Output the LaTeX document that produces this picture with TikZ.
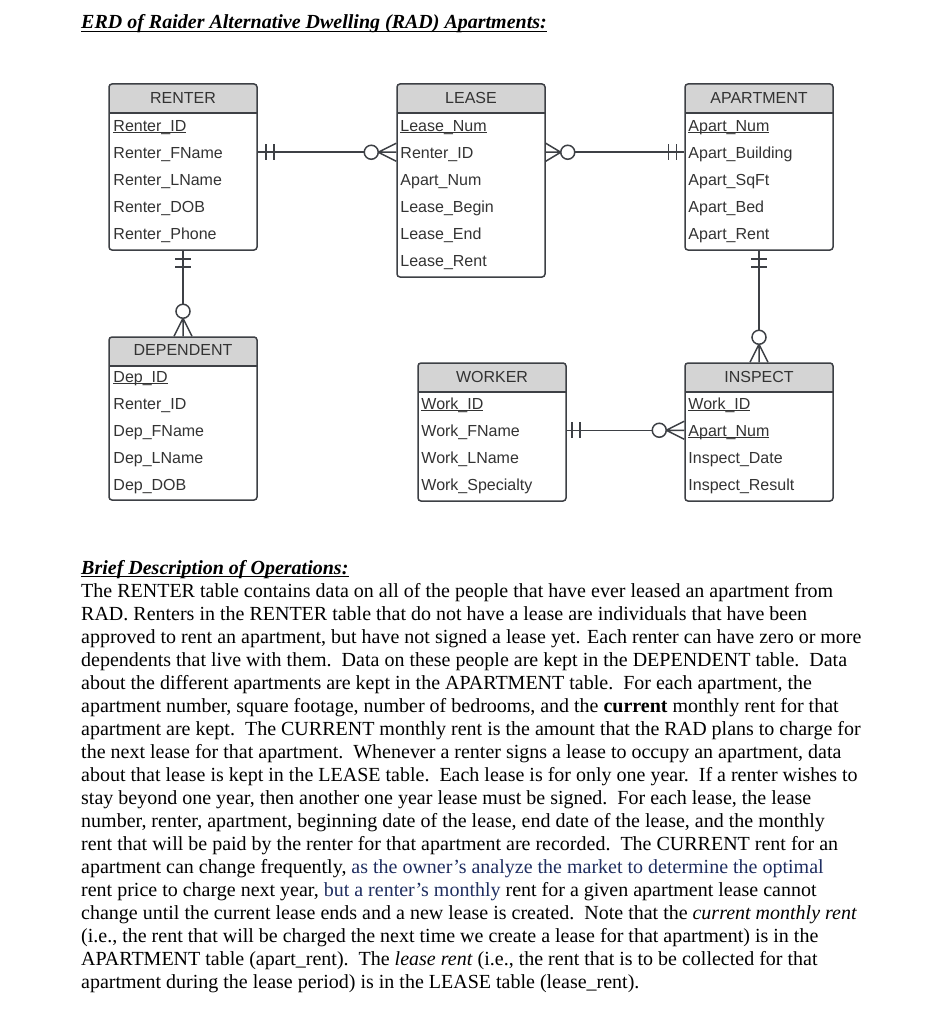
\documentclass[tikz,border=0pt]{standalone}
\usepackage{fontspec}
\setmainfont{Liberation Serif}
\setsansfont{Liberation Sans}
\usetikzlibrary{calc}
\definecolor{myline}{rgb}{0.24,0.25,0.27}
\definecolor{myhead}{rgb}{0.83,0.83,0.83}
\definecolor{mytext}{rgb}{0.2,0.2,0.2}
\definecolor{mynavy}{rgb}{0.12,0.18,0.38}
\newcommand{\keyul}[1]{\underline{\smash{#1}}}

\begin{document}
\begin{tikzpicture}[x=1pt,y=-1pt,
  entbox/.style={draw=myline,line width=1.5pt,rounded corners=3pt,minimum width=148pt,inner sep=0pt,
    path picture={\fill[myhead,sharp corners] (path picture bounding box.north west) rectangle ([yshift=-29pt]path picture bounding box.north east);
      \draw[myline,line width=1.5pt,sharp corners] ([yshift=-29pt]path picture bounding box.north west) -- ([yshift=-29pt]path picture bounding box.north east);}},
  enthead/.style={font=\sffamily\fontsize{16}{19}\selectfont,text=mytext,inner sep=0pt},
  attr/.style={font=\sffamily\fontsize{16}{19}\selectfont,text=mytext,inner sep=0pt,anchor=west,text height=13pt,text depth=1pt},
  erline/.style={draw=myline,line width=1.5pt},
  bodytxt/.style={font=\fontsize{20}{23}\selectfont,inner sep=0pt,anchor=base west}]
  \fill[white] (0,0) rectangle (949,1024);
  \useasboundingbox (0,0) rectangle (949,1024);

  % title
  \node[anchor=base west,inner sep=0pt,font=\fontsize{20}{24}\selectfont\bfseries\itshape] (title) at (81,29) {ERD of Raider Alternative Dwelling (RAD) Apartments:};
  \draw[line width=1pt] ([yshift=-3pt]title.base west) -- ([yshift=-3pt]title.base east);

  % entities
  \node[entbox,minimum height=166pt] (renter) at (183,167) {};
    \node[enthead] (renter-h) at ($(renter.north)+(0,14.5)$) {RENTER};
    \foreach \t [count=\i] in {\keyul{Renter\_ID},Renter\_FName,Renter\_LName,Renter\_DOB,Renter\_Phone}
      \node[attr] (renter-\i) at ($(renter.north west)+(5,{15+27*\i})$) {\t};
  \node[entbox,minimum height=193pt] (lease) at (471,180.5) {};
    \node[enthead] (lease-h) at ($(lease.north)+(0,14.5)$) {LEASE};
    \foreach \t [count=\i] in {\keyul{Lease\_Num},Renter\_ID,Apart\_Num,Lease\_Begin,Lease\_End,Lease\_Rent}
      \node[attr] (lease-\i) at ($(lease.north west)+(4,{15+27*\i})$) {\t};
  \node[entbox,minimum height=166pt] (apart) at (759,167) {};
    \node[enthead] (apart-h) at ($(apart.north)+(0,14.5)$) {APARTMENT};
    \foreach \t [count=\i] in {\keyul{Apart\_Num},Apart\_Building,Apart\_SqFt,Apart\_Bed,Apart\_Rent}
      \node[attr] (apart-\i) at ($(apart.north west)+(4,{15+27*\i})$) {\t};
  \node[entbox,minimum height=163pt] (dependent) at (183,418.5) {};
    \node[enthead] (dependent-h) at ($(dependent.north)+(0,14)$) {DEPENDENT};
    \foreach \t [count=\i] in {\keyul{Dep\_ID},Renter\_ID,Dep\_FName,Dep\_LName,Dep\_DOB}
      \node[attr] (dependent-\i) at ($(dependent.north west)+(5,{13+27*\i})$) {\t};
  \node[entbox,minimum height=138pt] (worker) at (492,432) {};
    \node[enthead] (worker-h) at ($(worker.north)+(0,14.5)$) {WORKER};
    \foreach \t [count=\i] in {\keyul{Work\_ID},Work\_FName,Work\_LName,Work\_Specialty}
      \node[attr] (worker-\i) at ($(worker.north west)+(4,{14+27*\i})$) {\t};
  \node[entbox,minimum height=138pt] (inspect) at (759,432) {};
    \node[enthead] (inspect-h) at ($(inspect.north)+(0,14.5)$) {INSPECT};
    \foreach \t [count=\i] in {\keyul{Work\_ID},\keyul{Apart\_Num},Inspect\_Date,Inspect\_Result}
      \node[attr] (inspect-\i) at ($(inspect.north west)+(4,{14+27*\i})$) {\t};

  % renter -- lease
  \coordinate (rl-a) at (renter.east |- renter-2);
  \coordinate (rl-b) at (lease.west |- renter-2);
  \draw[erline] (rl-a) -- ($(rl-b)+(-32,0)$);
  \draw[erline] ($(rl-a)+(8,-8)$) -- ++(0,16) ($(rl-a)+(16,-8)$) -- ++(0,16);
  \draw[erline] ($(rl-b)+(-25,0)$) circle[radius=7];
  \draw[erline] ($(rl-b)+(-18,0)$) -- ++(18,-9) ($(rl-b)+(-18,0)$) -- (rl-b) ($(rl-b)+(-18,0)$) -- ++(18,9);

  % lease -- apartment
  \coordinate (la-a) at (lease.east |- lease-2);
  \coordinate (la-b) at (apart.west |- lease-2);
  \draw[erline] ($(la-a)+(29,0)$) -- (la-b);
  \draw[erline] ($(la-a)+(22,0)$) circle[radius=7];
  \draw[erline] ($(la-a)+(15,0)$) -- ++(-15,-9) ($(la-a)+(15,0)$) -- (la-a) ($(la-a)+(15,0)$) -- ++(-15,9);
  \draw[erline] ($(la-b)+(-8,-8)$) -- ++(0,16) ($(la-b)+(-16,-8)$) -- ++(0,16);

  % renter -- dependent
  \coordinate (rd-a) at (renter.south);
  \coordinate (rd-b) at (dependent.north);
  \draw[erline] (rd-a) -- ($(rd-b)+(0,-32)$);
  \draw[erline] ($(rd-a)+(-8,8)$) -- ++(16,0) ($(rd-a)+(-8,16)$) -- ++(16,0);
  \draw[erline] ($(rd-b)+(0,-25)$) circle[radius=7];
  \draw[erline] ($(rd-b)+(0,-18)$) -- ++(-9,18) ($(rd-b)+(0,-18)$) -- (rd-b) ($(rd-b)+(0,-18)$) -- ++(9,18);

  % apartment -- inspect
  \coordinate (ai-a) at (apart.south);
  \coordinate (ai-b) at (inspect.north);
  \draw[erline] (ai-a) -- ($(ai-b)+(0,-32)$);
  \draw[erline] ($(ai-a)+(-8,8)$) -- ++(16,0) ($(ai-a)+(-8,16)$) -- ++(16,0);
  \draw[erline] ($(ai-b)+(0,-25)$) circle[radius=7];
  \draw[erline] ($(ai-b)+(0,-18)$) -- ++(-9,18) ($(ai-b)+(0,-18)$) -- (ai-b) ($(ai-b)+(0,-18)$) -- ++(9,18);

  % worker -- inspect
  \coordinate (wi-a) at (worker.east |- worker-2);
  \coordinate (wi-b) at (inspect.west |- worker-2);
  \draw[erline] (wi-a) -- ($(wi-b)+(-32,0)$);
  \draw[erline] ($(wi-a)+(5,-8)$) -- ++(0,16) ($(wi-a)+(13,-8)$) -- ++(0,16);
  \draw[erline] ($(wi-b)+(-25,0)$) circle[radius=7];
  \draw[erline] ($(wi-b)+(-18,0)$) -- ++(18,-9) ($(wi-b)+(-18,0)$) -- (wi-b) ($(wi-b)+(-18,0)$) -- ++(18,9);

  % description
  \node[bodytxt,font=\fontsize{20}{23}\selectfont\bfseries\itshape] (desc-h) at (81,574) {Brief Description of Operations:};
  \draw[line width=1pt] ([yshift=-2.5pt]desc-h.base west) -- ([yshift=-2.5pt]desc-h.base east);
  \foreach \ln [count=\i] in {
    {The RENTER table contains data on all of the people that have ever leased an apartment from},
    {RAD. Renters in the RENTER table that do not have a lease are individuals that have been},
    {approved to rent an apartment, but have not signed a lease yet. Each renter can have zero or more},
    {dependents that live with them.\ \ Data on these people are kept in the DEPENDENT table.\ \ Data},
    {about the different apartments are kept in the APARTMENT table.\ \ For each apartment, the},
    {apartment number, square footage, number of bedrooms, and the \textbf{current} monthly rent for that},
    {apartment are kept.\ \ The CURRENT monthly rent is the amount that the RAD plans to charge for},
    {the next lease for that apartment.\ \ Whenever a renter signs a lease to occupy an apartment, data},
    {about that lease is kept in the LEASE table.\ \ Each lease is for only one year.\ \ If a renter wishes to},
    {stay beyond one year, then another one year lease must be signed.\ \ For each lease, the lease},
    {number, renter, apartment, beginning date of the lease, end date of the lease, and the monthly},
    {rent that will be paid by the renter for that apartment are recorded.\ \ The CURRENT rent for an},
    {apartment can change frequently, \textcolor{mynavy}{as the owner’s analyze the market to determine the optimal}},
    {rent price to charge next year, \textcolor{mynavy}{but a renter’s monthly} rent for a given apartment lease cannot},
    {change until the current lease ends and a new lease is created.\ \ Note that the \textit{current monthly rent}},
    {(i.e., the rent that will be charged the next time we create a lease for that apartment) is in the},
    {APARTMENT table (apart\_rent).\ \ The \textit{lease rent} (i.e., the rent that is to be collected for that},
    {apartment during the lease period) is in the LEASE table (lease\_rent).}}
    \node[bodytxt] (line-\i) at (81,{574+23*\i}) {\ln};
\end{tikzpicture}
\end{document}
